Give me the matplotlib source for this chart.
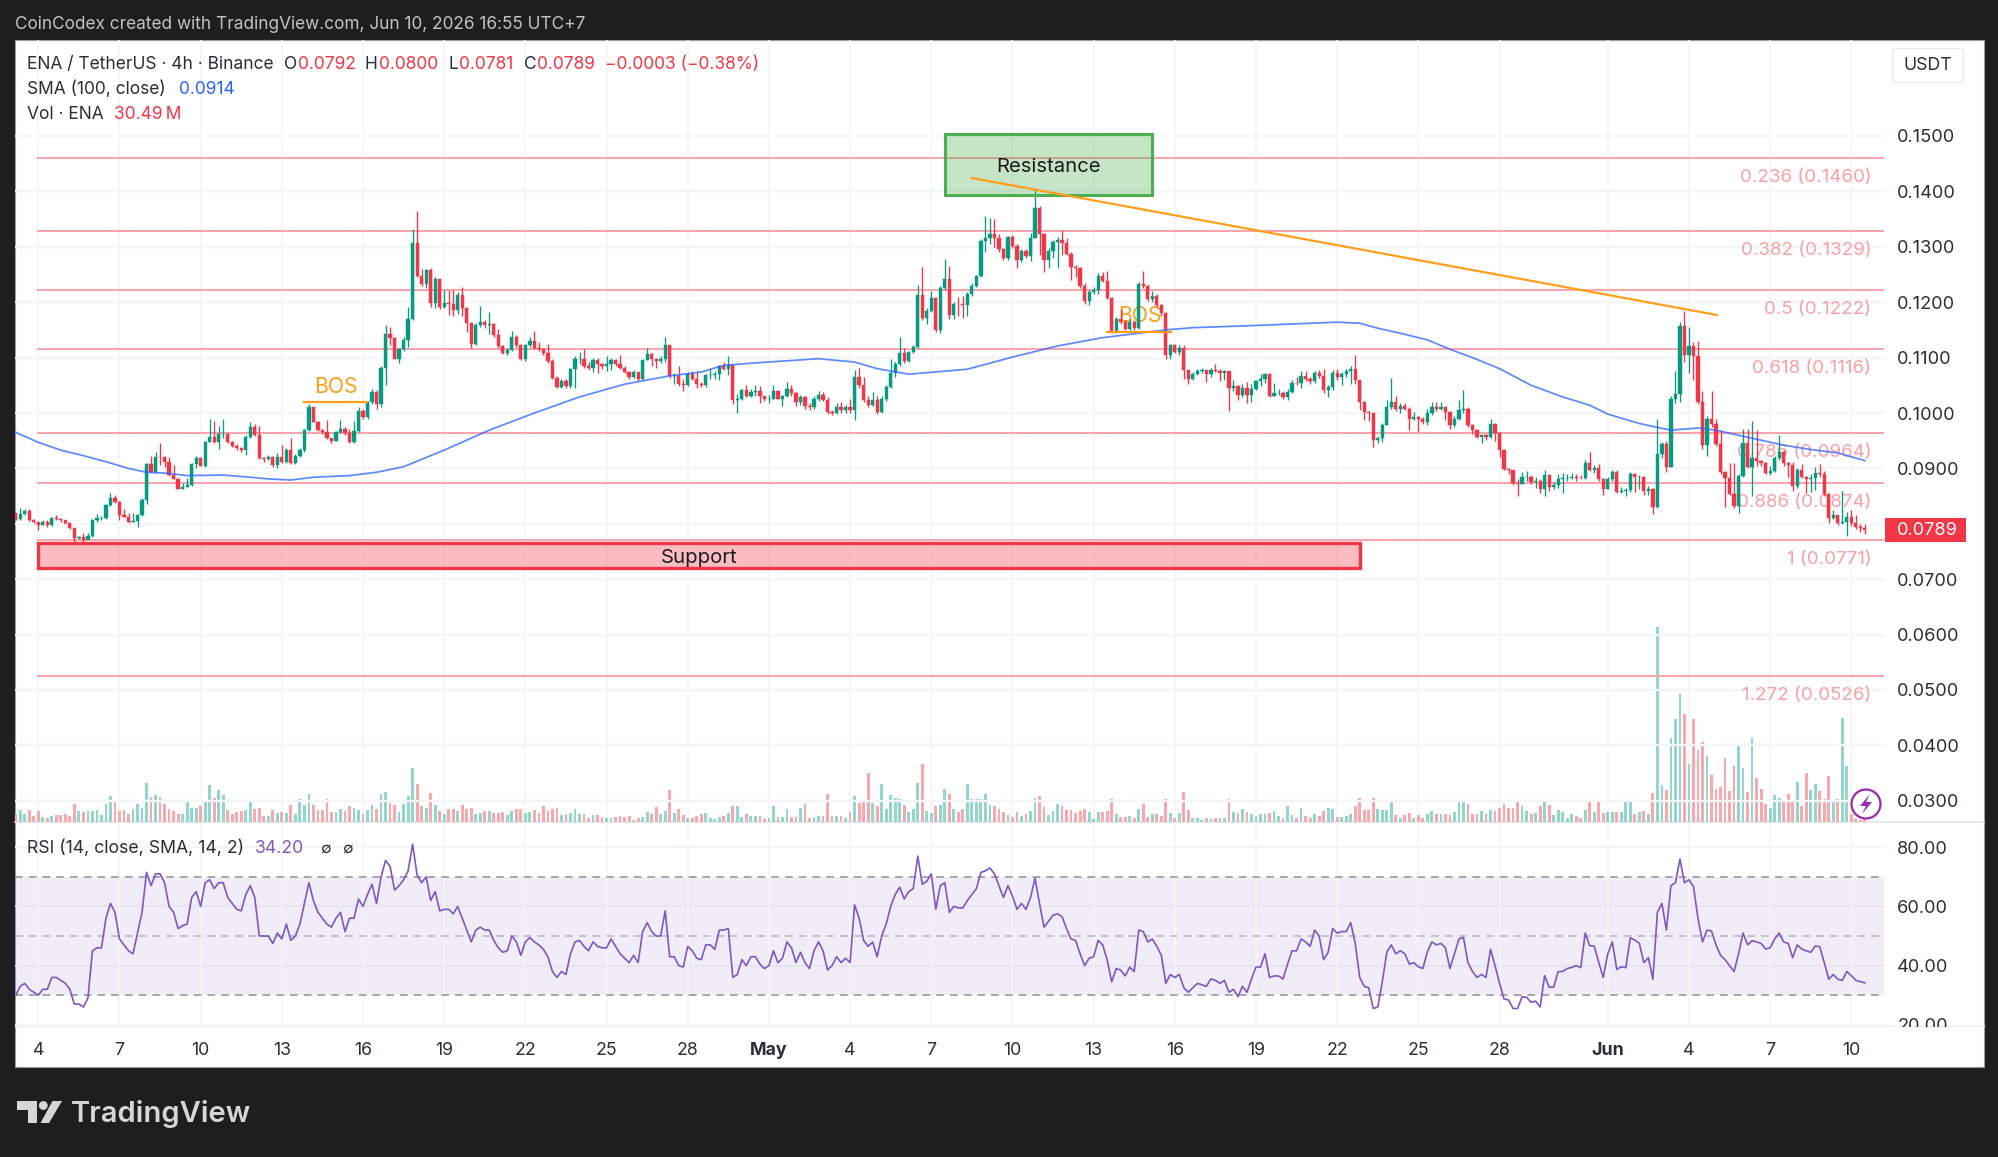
import numpy as np
import matplotlib
matplotlib.use('Agg')
import matplotlib.pyplot as plt
from matplotlib.patches import Rectangle, Polygon, Circle

plt.rcParams['font.family'] = ['Inter', 'DejaVu Sans']

# prices are in units of 0.0001, one entry per 4h bar
first_open = 819
closes = [
    809,818,824,806,803,798,804,797,810,808,
    806,801,792,774,776,771,778,806,810,811,
    834,846,840,816,813,804,805,816,843,908,
    894,921,920,912,888,881,863,866,870,908,
    918,905,948,956,947,962,962,947,941,936,
    933,957,974,960,918,917,920,906,920,912,
    933,909,923,933,969,1011,984,969,965,954,
    950,965,972,963,948,968,1004,992,1019,1038,
    1016,1082,1143,1136,1098,1116,1131,1170,1307,1248,
    1233,1258,1198,1242,1192,1199,1197,1186,1213,1190,
    1162,1124,1158,1165,1158,1160,1141,1121,1108,1113,
    1137,1123,1097,1122,1130,1117,1115,1108,1093,1064,
    1047,1058,1049,1079,1097,1098,1085,1082,1096,1088,
    1085,1088,1096,1088,1082,1074,1065,1074,1061,1096,
    1106,1097,1094,1098,1122,1066,1066,1053,1050,1070,
    1062,1053,1050,1068,1069,1071,1084,1080,1086,1023,
    1026,1041,1031,1038,1040,1030,1025,1026,1040,1026,
    1030,1044,1036,1020,1029,1012,1010,1026,1032,1024,
    1001,1000,1011,1005,1010,1005,1065,1050,1023,1014,
    1023,1002,1026,1047,1073,1089,1109,1093,1110,1120,
    1213,1172,1185,1208,1149,1226,1241,1176,1197,1196,
    1195,1215,1230,1248,1310,1316,1323,1316,1296,1280,
    1317,1302,1276,1293,1284,1316,1370,1323,1276,1292,
    1309,1312,1307,1287,1263,1262,1230,1203,1218,1222,
    1248,1238,1208,1146,1170,1164,1152,1165,1153,1232,
    1229,1206,1212,1195,1180,1104,1122,1110,1118,1077,
    1062,1071,1076,1077,1071,1077,1076,1073,1075,1045,
    1048,1033,1045,1032,1043,1057,1062,1070,1031,1036,
    1036,1028,1038,1055,1054,1067,1062,1058,1073,1067,
    1041,1047,1073,1065,1071,1076,1080,1059,1019,1001,
    1000,952,954,978,1011,1020,1007,1012,1008,990,
    992,990,983,1000,1010,1008,1010,1002,978,990,
    1006,1008,978,969,957,960,956,981,963,933,
    899,897,873,872,884,885,875,877,862,888,
    867,870,880,882,882,884,883,882,910,897,
    900,880,862,880,894,858,860,861,890,885,
    885,860,863,831,926,944,902,1026,1035,1157,
    1105,1121,1102,1019,942,990,981,944,894,882,
    854,832,886,946,903,918,914,910,892,895,
    918,930,910,907,868,897,885,880,882,891,
    890,854,810,815,802,803,813,802,795,792,789,
]
highs = [
    820,828,827,826,808,804,806,806,812,816,
    810,806,802,793,778,783,783,808,818,814,
    836,855,852,842,827,820,820,818,846,910,
    922,930,946,922,921,906,882,874,883,910,
    922,920,950,990,985,976,989,964,950,944,
    938,960,984,980,977,920,924,923,928,942,
    937,955,926,936,972,1017,1010,985,972,988,
    955,967,987,975,972,985,1010,1008,1021,1044,
    1042,1084,1158,1155,1137,1118,1138,1192,1333,1365,
    1260,1260,1262,1245,1242,1222,1222,1222,1218,1228,
    1192,1165,1162,1193,1168,1182,1162,1152,1122,1118,
    1148,1140,1125,1125,1138,1148,1128,1118,1125,1098,
    1066,1062,1062,1082,1102,1110,1115,1092,1100,1100,
    1090,1102,1100,1098,1105,1085,1076,1078,1074,1098,
    1118,1108,1100,1103,1138,1123,1072,1084,1062,1074,
    1075,1075,1056,1070,1080,1076,1087,1092,1103,1088,
    1035,1044,1050,1043,1050,1048,1030,1033,1050,1042,
    1033,1056,1050,1038,1033,1030,1018,1030,1040,1038,
    1028,1006,1018,1020,1014,1026,1078,1082,1065,1030,
    1038,1030,1030,1050,1098,1092,1138,1118,1112,1123,
    1231,1263,1189,1220,1210,1230,1278,1266,1200,1210,
    1212,1218,1234,1250,1314,1356,1352,1350,1323,1298,
    1320,1322,1305,1296,1296,1325,1403,1374,1325,1298,
    1312,1318,1330,1315,1290,1268,1264,1235,1222,1228,
    1252,1254,1256,1210,1174,1188,1168,1170,1168,1236,
    1256,1232,1221,1214,1196,1182,1125,1125,1123,1122,
    1078,1074,1080,1082,1076,1082,1088,1080,1078,1076,
    1060,1050,1052,1056,1052,1060,1070,1073,1072,1054,
    1044,1040,1044,1060,1065,1076,1076,1065,1076,1077,
    1080,1050,1078,1080,1074,1080,1084,1104,1060,1022,
    1004,1000,958,982,1024,1063,1030,1018,1018,1010,
    1002,994,992,1008,1020,1020,1020,1012,1004,995,
    1024,1041,1010,980,972,962,962,990,982,965,
    935,900,898,880,893,895,888,885,880,898,
    890,876,890,892,890,892,890,888,915,930,
    906,908,882,884,898,897,866,865,893,892,
    888,886,868,864,990,948,950,1031,1076,1165,
    1185,1155,1128,1130,1040,994,1040,990,970,896,
    910,909,890,972,972,986,970,916,912,905,
    922,960,934,912,912,900,908,886,890,902,
    908,895,856,825,816,860,822,825,815,800,800,
]
lows = [
    806,806,815,805,801,788,797,795,796,806,
    804,799,790,768,772,766,772,776,804,806,
    808,832,838,807,812,802,803,795,814,836,
    893,892,906,903,886,880,862,862,866,868,
    900,904,903,948,946,935,955,946,938,933,
    930,925,955,958,917,912,915,903,901,910,
    910,908,908,920,930,967,983,968,962,953,
    945,949,964,960,946,946,966,990,990,1016,
    1008,1010,1050,1122,1097,1090,1112,1120,1168,1246,
    1230,1225,1192,1190,1188,1190,1177,1175,1178,1175,
    1147,1118,1122,1155,1153,1143,1138,1118,1106,1105,
    1112,1120,1095,1094,1120,1115,1112,1105,1090,1062,
    1045,1045,1046,1046,1045,1088,1082,1078,1074,1072,
    1080,1075,1078,1085,1080,1072,1062,1064,1058,1060,
    1095,1085,1082,1090,1092,1064,1052,1048,1040,1048,
    1060,1045,1047,1047,1062,1062,1060,1077,1068,1017,
    1000,1024,1028,1028,1030,1018,1022,1018,1025,1025,
    1012,1028,1030,1012,1015,1007,1005,1008,1022,1022,
    998,996,998,1000,1000,1000,987,1045,1020,1010,
    1012,998,1000,1022,1045,1065,1085,1090,1092,1108,
    1117,1168,1160,1182,1147,1145,1222,1170,1170,1175,
    1172,1175,1212,1228,1245,1290,1305,1300,1290,1277,
    1277,1298,1262,1272,1280,1274,1315,1285,1254,1262,
    1280,1262,1285,1285,1240,1245,1225,1196,1195,1215,
    1215,1236,1205,1144,1145,1160,1150,1150,1150,1152,
    1226,1203,1200,1192,1175,1098,1098,1108,1105,1062,
    1052,1060,1068,1072,1056,1065,1074,1058,1060,1004,
    1040,1024,1028,1018,1020,1042,1048,1055,1028,1030,
    1032,1026,1024,1036,1050,1045,1058,1053,1055,1064,
    1036,1028,1042,1060,1050,1065,1053,1052,1006,988,
    986,938,945,948,978,1008,1003,1000,1006,970,
    988,966,980,978,996,1004,1006,988,971,975,
    988,1000,975,962,955,945,952,955,950,920,
    898,890,870,850,872,878,872,865,855,850,
    860,862,865,856,878,880,878,880,880,895,
    892,878,852,862,878,856,855,850,858,858,
    862,852,852,818,828,918,893,902,1018,1020,
    1092,1072,1060,1016,935,922,975,940,890,830,
    852,828,820,884,900,850,905,905,890,888,
    893,915,905,885,860,865,882,855,858,861,
    885,850,802,808,797,800,778,796,790,785,781,
]
# volume in millions of ENA
volumes = [
    50,74,46,70,34,64,30,26,34,44,
    42,46,34,110,64,60,66,68,72,40,
    110,158,122,66,70,48,80,110,84,232,
    150,164,148,106,76,68,48,48,120,82,
    86,94,130,220,146,190,160,74,50,62,
    68,70,128,76,86,34,34,74,52,60,
    52,100,50,136,100,170,100,70,70,138,
    58,60,80,66,94,84,74,50,74,104,
    80,170,180,116,104,60,110,154,326,230,
    94,84,174,100,64,46,80,76,68,100,
    80,84,50,54,64,66,54,54,58,44,
    64,80,80,54,60,70,52,94,68,80,
    86,44,50,54,80,46,46,26,44,44,
    30,26,26,30,34,30,34,14,26,30,
    58,46,88,50,64,190,56,80,42,26,
    24,38,46,54,26,18,30,34,54,94,
    94,30,46,34,34,34,18,26,94,30,
    30,80,30,30,84,106,26,30,38,34,
    170,34,34,34,22,60,154,114,118,294,
    114,94,230,80,164,146,140,104,60,76,
    234,350,66,54,94,100,200,170,76,60,
    76,230,140,138,140,170,102,94,76,60,
    40,30,58,34,50,64,146,156,90,40,
    64,106,96,70,70,54,64,76,62,20,
    58,60,64,138,50,30,30,34,26,80,
    106,30,46,46,38,138,54,22,54,180,
    70,22,22,14,26,18,26,26,22,138,
    58,54,80,60,50,38,46,50,54,66,
    34,22,94,40,26,82,34,22,50,34,
    66,82,80,30,30,38,46,94,142,70,
    74,142,76,74,70,118,40,26,40,56,
    22,40,22,46,64,50,50,50,42,58,
    134,128,106,46,48,64,46,74,66,86,
    106,86,84,122,94,66,48,52,94,134,
    100,42,70,62,26,48,34,22,74,118,
    60,118,52,62,62,62,58,120,120,50,
    60,66,46,174,1170,222,194,504,616,770,
    650,346,620,430,482,394,284,196,210,386,
    186,338,460,324,180,504,262,196,106,84,
    162,146,124,170,124,238,94,292,190,226,
    186,138,274,134,138,626,334,50,20,14,30.49,
]
rsi = [
    30,33,34,32,31,30,32,32,36,36,
    35,34,32,27,27,26,29,45,46,46,
    56,61,58,49,47,45,44,51,58,71.5,
    67,71,71,68,60,58,52.5,53.5,54,63,
    65,60,68,69,66,68,68,63,61,59,
    58.5,64,67,63,50,50,50,47.5,51,49,
    54,48.5,50,54,61,68,62,58,56,54,
    53,56,58,51.5,56,56,62.5,60,64,67.5,
    61,70,75.5,73.5,65.5,67,69,72,81,70.5,
    68,70,62,65,58.5,59,59,57.5,60,56,
    52,48,52,53,52,52,48.5,46,44.5,45,
    50,48,43.5,48,49.5,48,47,45.5,43,38,
    36,38,37,44,48,48.5,46.5,45,48,46.5,
    46,46,49,46.5,44,42.5,41,43.5,41,51.5,
    54.5,51.5,50,50,58.5,43,43,40,39.5,46.5,
    45,42.5,42,47,47,45.5,52,52,52.5,36,
    37,42,40,43,43,40.5,39,40,45,41,
    42.5,48,46,41,44.5,41,39,45,48,45,
    38.5,40,43,41,42.5,41,60.5,56,48.5,46.5,
    48,43,50,54,60,64,66.5,62.5,65,66,
    77,67.5,68.5,71,59,67,68,58,60,59.5,
    59.5,62,64,66,71.5,72,73,71,67,63,
    67,63.5,59,61,59,63,69.5,61,53,55,
    57,57.5,56.5,52.5,49,48.5,44,40,42.5,43,
    48.5,47,42,34.5,39,38.5,36.5,39.5,38,52,
    51.5,48,49,46.5,43.5,34,37,36,37,32.5,
    31,32.5,34,33.5,33,35.5,35,34,35,31,
    32,29.5,33,31,35.5,39.5,39.5,44,36,36.5,
    36.5,35.5,40.5,45,45,49,48,46.5,52,50,
    42,44.5,52.5,51,51.5,51.5,54.5,47.5,36,33,
    32.5,25.5,26,34.5,44.5,47,44,45,44,40.5,
    41,39.6,39,44.7,48,47,47.5,46,39,44,
    49,49.5,41,38,36,37,36,45.5,40,34,
    28.7,28.4,25.5,25.5,29.5,29.3,27.6,28,26,36.6,
    32.7,32.7,38,38,39,39.4,40,39.3,51,46.7,
    46.6,41,36,44,48,38.7,39.6,39.3,49.4,48.6,
    47.5,41,42.7,35.4,58,61,52,67,68,76,
    68,69,66.7,56,48,52,51.7,47,43.5,42,
    40,38,44,51,47,48.4,48,47.5,45.6,46,
    49,51,48,47.5,42.7,47,45.6,45,44.5,46.6,
    46.4,41,35.4,37,35.4,35,38,36.6,35,34.6,34.2,
]
sma_bars = [0,5,10,15,20,25,29,34,38,46,52,56,61,66,74,80,86,95,105,115,125,135,145,152,157,165,
            178,186,191,198,211,221,231,241,255,261,275,293,298,302,307,313,318,323,329,336,343,
            349,353,360,367,373,377,383,392,398,404,410]
sma_values = [965,947,933,923,912,900,893,891,887,888,884,881,879,884,887,893,903,933,969,1000,1029,1052,1067,1074,1086,1091,
              1098,1092,1080,1070,1079,1101,1121,1136,1150,1154,1158,1164,1162,1153,1144,1132,1115,1100,1080,1050,1029,
              1014,998,981,969,973,969,958,942,934,928,914]

fib_names = ['0.236', '0.382', '0.5', '0.618', '0.786', '0.886', '1', '1.272']
fib_levels = [0.1460, 0.1329, 0.1222, 0.1116, 0.0964, 0.0874, 0.0771, 0.0526]

price_ticks = [0.03, 0.04, 0.05, 0.06, 0.07, 0.09, 0.10, 0.11, 0.12, 0.13, 0.14, 0.15]
rsi_ticks = [20, 40, 60, 80]
day_labels = ['4', '7', '10', '13', '16', '19', '22', '25', '28', 'May', '4', '7', '10', '13', '16',
              '19', '22', '25', '28', 'Jun', '4', '7', '10']
day_offsets = [0, 3, 6, 9, 12, 15, 18, 21, 24, 27, 30, 33, 36, 39, 42, 45, 48, 51, 54, 58, 61, 64, 67]

UP = '#089981'
DOWN = '#F23645'
UP_VOL = '#92D6CC'
DOWN_VOL = '#F9A8AC'
ORANGE = '#FF9F1C'
BLUE = '#2962FF'
PURPLE = '#7E57C2'
TEXT = '#2A2E39'
DARK_BG = '#1E1E1E'
GRID = '#F4F5F7'

W, H = 1999, 1157
LEFT, RIGHT = 15, 1884
fig = plt.figure(figsize=(W / 100, H / 100), dpi=100, facecolor=DARK_BG)


def px_axes(x0, y0, x1, y1, z):
    ax = fig.add_axes([x0 / W, 1 - y1 / H, (x1 - x0) / W, (y1 - y0) / H], zorder=z)
    ax.patch.set_visible(False)
    for s in ax.spines.values():
        s.set_visible(False)
    return ax


# background layer in pixel coordinates
back = fig.add_axes([0, 0, 1, 1], zorder=0)
back.set_xlim(0, W)
back.set_ylim(H, 0)
back.axis('off')
back.add_patch(Rectangle((15, 40), 1969, 1027, fc='white', ec='#9A9A9A', lw=0.8))
back.plot([15, 1984], [822, 822], color='#E3E5EB', lw=1.2)
back.plot([15, 1984], [1026, 1026], color='#ECEEF2', lw=1.0)

bars = np.arange(len(closes))
xlim = ((LEFT - 15.75) / 4.51, (RIGHT - 15.75) / 4.51)
tick_bars = [5 + 6 * d for d in day_offsets]

c = np.array(closes) / 1e4
h = np.array(highs) / 1e4
l = np.array(lows) / 1e4
o = np.concatenate(([first_open / 1e4], c[:-1]))
rising = c >= o

# volume bars share the bottom of the price pane
vol_ax = px_axes(LEFT, 40, RIGHT, 822, 1)
vol_ax.set_xlim(*xlim)
vol_ax.set_ylim(0, 782 * 6)
vol_ax.set_xticks(tick_bars)
vol_ax.set_xticklabels([])
vol_ax.set_yticks([])
vol_ax.tick_params(length=0)
vol_ax.grid(axis='x', color=GRID, lw=1.2)
vol_ax.set_axisbelow(True)
vol_ax.bar(bars, volumes, width=0.62, color=[UP_VOL if r else DOWN_VOL for r in rising])

ax = px_axes(LEFT, 40, RIGHT, 822, 2)
ax.set_xlim(*xlim)
ax.set_ylim(0.10 - 409 / 5540, 0.10 + 373 / 5540)
ax.set_xticks([])
ax.yaxis.tick_right()
ax.set_yticks(price_ticks)
ax.set_yticklabels(['%.4f' % p for p in price_ticks], fontsize=13.1, color=TEXT)
ax.tick_params(axis='y', length=0, pad=9.5)
for p in price_ticks + [0.08]:
    ax.axhline(p, color=GRID, lw=1.6, zorder=0)

# fib retracement levels and their labels
fib_start = 5
for name, lev in zip(fib_names, fib_levels):
    ax.plot([fib_start, xlim[1]], [lev, lev], color='#F9A3A9', lw=1.4, zorder=1.5)
    ax.text(411.4, lev - 19.5 / 5540, '%s (%.4f)' % (name, lev), ha='right', va='center',
            fontsize=13.5, color='#FAA0A6', zorder=1.6)

ax.text(71.1, 0.10 - (387 - 413) / 5540, 'BOS', color=ORANGE, fontsize=15.2, ha='center', va='center', zorder=1.6)
ax.text(249.3, 0.10 - (316 - 413) / 5540, 'BOS', color=ORANGE, fontsize=15.2, ha='center', va='center', zorder=1.6)

# candles
colors = [UP if r else DOWN for r in rising]
ax.vlines(bars, l, h, colors=colors, lw=0.95, zorder=3)
ax.bar(bars, np.abs(c - o), bottom=np.minimum(c, o), width=0.72, color=colors,
       edgecolor=colors, linewidth=0.3, zorder=3.1)

ax.plot(sma_bars, np.array(sma_values) / 1e4, color=BLUE, lw=1.25, alpha=0.75, zorder=4)

# drawings on top of the candles
ax.plot([64, 77.8], [0.1019, 0.1019], color=ORANGE, lw=1.6, zorder=5)
ax.plot([242, 256.2], [0.11468, 0.11468], color=ORANGE, lw=1.6, zorder=5)
ax.plot([212, 377.2], [0.14242, 0.11769], color=ORANGE, lw=1.6, zorder=5)

ax.add_patch(Rectangle((206, 0.1394), 46, 0.0110, fc='#4CAF50', ec='none', alpha=0.32, zorder=4.5))
ax.add_patch(Rectangle((206, 0.1394), 46, 0.0110, fc='none', ec='#4CAF50', lw=2.2, zorder=4.6))
ax.text(228.9, 0.10 + (413 - 166.5) / 5540, 'Resistance', color='#1B1B1B', fontsize=14.6,
        ha='center', va='center', zorder=6)
ax.add_patch(Rectangle((5, 0.07197), 293, 0.00462, fc='#F23645', ec='none', alpha=0.33, zorder=4.5))
ax.add_patch(Rectangle((5, 0.07197), 293, 0.00462, fc='none', ec='#F23645', lw=2.4, zorder=4.6))
ax.text(151.5, 0.10 - (558 - 413) / 5540, 'Support', color='#1B1B1B', fontsize=14.6,
        ha='center', va='center', zorder=6)

# RSI pane
rax = px_axes(LEFT, 822, RIGHT, 1026, 2)
rax.set_xlim(*xlim)
rax.set_ylim(50 - 90 / 2.96, 50 + 114 / 2.96)
rax.yaxis.tick_right()
rax.set_yticks(rsi_ticks)
rax.set_yticklabels(['%.2f' % r for r in rsi_ticks], fontsize=13.1, color=TEXT)
rax.tick_params(axis='y', length=0, pad=9.5)
rax.set_xticks(tick_bars)
rax.set_xticklabels(day_labels, fontsize=12.8, color=TEXT)
for lab in rax.get_xticklabels():
    if lab.get_text() in ('May', 'Jun'):
        lab.set_fontweight('bold')
rax.tick_params(axis='x', length=0, pad=11.5)
rax.grid(axis='x', color=GRID, lw=1.2)
rax.set_axisbelow(True)
for r in rsi_ticks:
    rax.axhline(r, color=GRID, lw=1.4, zorder=0)
rax.axhspan(30, 70, color=PURPLE, alpha=0.1, lw=0, zorder=0.5)
for lev, col in zip([70, 50, 30], ['#8F919A', '#B5B6BC', '#8F919A']):
    rax.axhline(lev, color=col, lw=1.1, dashes=(5, 4), zorder=1)
rax.plot(bars, rsi, color=PURPLE, lw=1.2, zorder=3)

# header, legends, footer and axis tags in pixel coordinates
top = fig.add_axes([0, 0, 1, 1], zorder=10)
top.set_xlim(0, W)
top.set_ylim(H, 0)
top.axis('off')
top.patch.set_visible(False)

FS = 12.5


def put(x, y, s, color=TEXT, fs=FS, **kw):
    top.text(x, y + 1.2, s, color=color, fontsize=fs, va='center', **kw)


# hides the lower half of the last RSI scale label
top.add_patch(Rectangle((1885, 1027), 98, 39, fc='white', ec='none'))

put(15, 23, 'CoinCodex created with TradingView.com, Jun 10, 2026 16:55 UTC+7', color='#C4C4C4', fs=12.4)

put(27, 63, 'ENA / TetherUS \u00b7 4h \u00b7 Binance')
for x, s in zip([284, 365, 449, 524.5], 'OHLC'):
    put(x, 63, s)
for x, s in zip([298.5, 378.6, 459, 537], ['0.0792', '0.0800', '0.0781', '0.0789']):
    put(x, 63, s, color=DOWN)
put(605, 63, '\u22120.0003 (\u22120.38%)', color=DOWN)
put(27, 88, 'SMA (100, close)')
put(178.6, 88, '0.0914', color=BLUE)
put(27, 113, 'Vol \u00b7 ENA')
put(114, 113, '30.49\u2009M', color=DOWN)

put(27, 847, 'RSI (14, close, SMA, 14, 2)', fs=12.7)
put(255, 847, '34.20', color=PURPLE, fs=12.7)
put(320, 847, '\u2205', fs=11)
put(342, 847, '\u2205', fs=11)

top.add_patch(Rectangle((1892, 48), 71, 34, fc='white', ec='#E8E9ED', lw=0.9))
put(1928, 64, 'USDT', ha='center', fs=12.8)

# last price tag
top.add_patch(Rectangle((1885, 518), 81.5, 24, fc=DOWN, ec='none'))
put(1897, 529, '0.0789', color='white', fs=13.1)

# replay lightning badge
top.add_patch(Circle((1866, 804), 14.5, fc='white', ec='#9C27B0', lw=1.6))
top.add_patch(Polygon([(1870, 794), (1860, 806), (1866, 806), (1862, 814), (1872, 802), (1866, 802)],
                      closed=True, fc='#9C27B0', ec='none'))

# TradingView mark
logo = '#D6D6D6'
top.add_patch(Polygon([(17, 1101), (37, 1101), (37, 1123), (28, 1123), (28, 1110), (17, 1110)],
                      closed=True, fc=logo, ec='none'))
top.add_patch(Circle((43.3, 1105.5), 4.4, fc=logo, ec='none'))
top.add_patch(Polygon([(52.5, 1101), (62, 1101), (49, 1123), (40.5, 1123)], closed=True, fc=logo, ec='none'))
put(71, 1113, 'TradingView', color=logo, fs=21, fontweight='semibold')

fig.savefig('out.png', dpi=100, facecolor=DARK_BG)
